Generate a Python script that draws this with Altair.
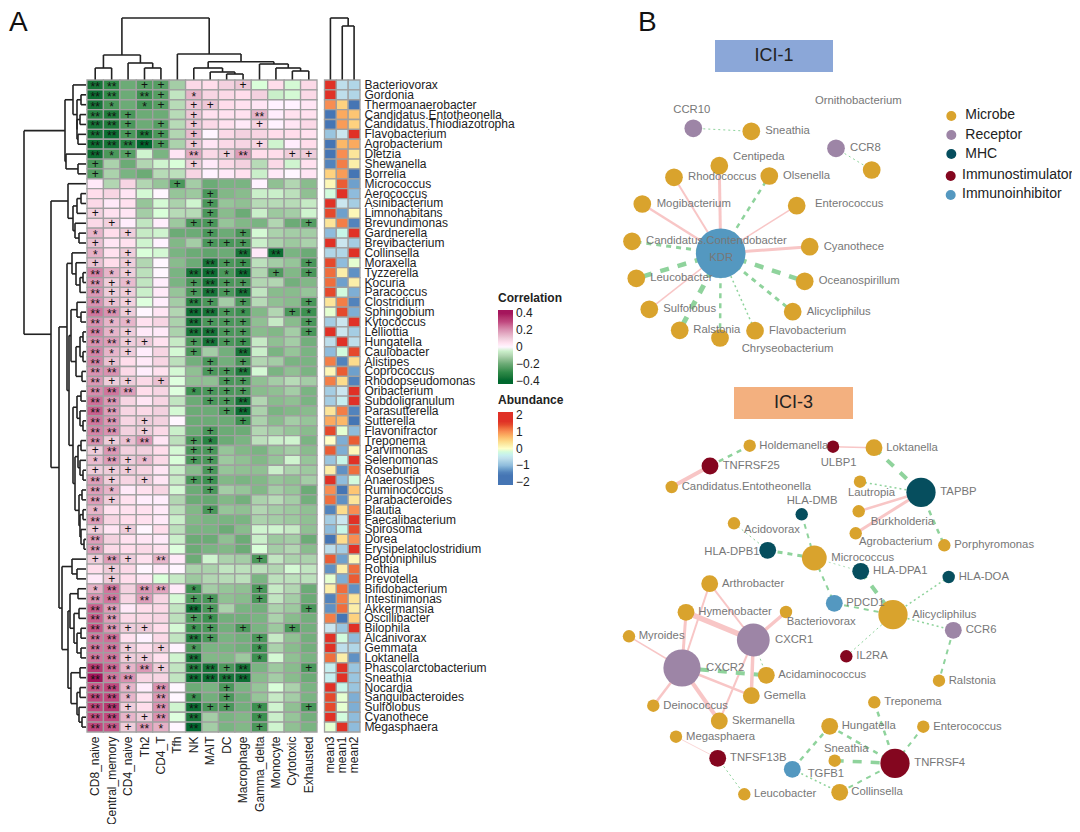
import altair as alt
import pandas as pd

FONT = "Liberation Sans"
taxa = ["Bacteriovorax","Gordonia","Thermoanaerobacter","Candidatus.Entotheonella","Candidatus.Thiodiazotropha","Flavobacterium","Agrobacterium","Dietzia","Shewanella","Borrelia","Micrococcus","Aerococcus","Asinibacterium","Limnohabitans","Brevundimonas","Gardnerella","Brevibacterium","Collinsella","Moraxella","Tyzzerella","Kocuria","Paracoccus","Clostridium","Sphingobium","Kytococcus","Lelliottia","Hungatella","Caulobacter","Alistipes","Coprococcus","Rhodopseudomonas","Oribacterium","Subdoligranulum","Parasutterella","Sutterella","Flavonifractor","Treponema","Parvimonas","Selenomonas","Roseburia","Anaerostipes","Ruminococcus","Parabacteroides","Blautia","Faecalibacterium","Spirosoma","Dorea","Erysipelatoclostridium","Peptoniphilus","Rothia","Prevotella","Bifidobacterium","Intestinimonas","Akkermansia","Oscillibacter","Bilophila","Alcanivorax","Gemmata","Loktanella","Phascolarctobacterium","Sneathia","Nocardia","Sanguibacteroides","Sulfolobus","Cyanothece","Megasphaera"]
cells = ["CD8_naive","Central_memory","CD4_naive","Th2","CD4_T","Tfh","NK","MAIT","DC","Macrophage","Gamma_delta","Monocyte","Cytotoxic","Exhausted"]
means = ["mean3","mean1","mean2"]

corr = [
[-36,-30,-20,-24,-24,-12,7,6,9,11,-2,6,-3,7],[-38,-30,-20,-28,-24,-7,14,8,7,6,9,-5,-3,7],[-36,-26,-20,-27,-24,-9,11,11,6,5,4,1,1,4],
[-32,-34,-26,-20,-20,-9,11,5,5,5,14,2,5,5],[-36,-34,-26,-20,-24,-9,11,7,5,3,8,1,4,7],[-36,-38,-26,-34,-26,-10,13,0,7,9,8,6,6,5],
[-38,-36,-32,-40,-26,-11,11,4,7,8,8,-4,2,6],[-38,-26,-24,-4,-18,4,16,7,10,18,6,6,10,10],[-26,-11,-20,-10,-4,-2,10,3,7,9,-9,7,-4,5],
[-24,-11,-18,-20,-9,-8,8,1,3,5,-5,3,0,4],[3,-10,8,-10,-14,-26,-12,-20,-18,-18,1,-15,-10,-16],[6,8,4,-3,0,-14,-13,-26,-17,-16,-5,-5,-8,-15],
[7,3,5,-14,-3,-11,-4,-26,-14,-15,-9,-9,-9,-6],[9,5,4,-12,-2,-9,-9,-26,-16,-20,-5,-13,-12,-4],[7,9,2,-7,2,-13,-26,-26,-14,-17,-18,-10,-20,-24],
[14,6,10,-6,-4,-20,-20,-26,-20,-26,-3,-11,-12,-12],[12,4,5,-4,1,-17,-12,-26,-26,-26,-5,-11,-13,-11],[15,5,10,-2,-3,-18,-20,-22,-20,-36,3,-38,-18,-20],
[12,6,10,-10,0,-16,-20,-36,-26,-28,-8,-12,-14,-26],[22,14,10,-8,0,-18,-36,-38,-26,-38,-10,-25,-17,-26],[19,10,13,-7,2,-18,-26,-36,-26,-26,-10,-10,-19,-17],
[19,10,10,-5,3,-14,-26,-36,-26,-36,-7,-16,-16,-14],[20,12,9,-1,2,-12,-32,-26,-12,-26,-9,-15,-16,-26],[24,20,10,0,4,-10,-38,-36,-26,-28,-17,-10,-26,-28],
[20,14,14,5,8,-11,-36,-26,-26,-26,-15,-6,-16,-26],[22,14,10,3,3,-11,-36,-36,-26,-26,-16,-17,-12,-26],[20,18,10,10,5,-6,-26,-36,-26,-28,-6,-15,-12,-19],
[22,14,10,2,8,-3,-26,-12,-19,-36,-5,-18,-14,-18],[22,12,6,3,8,-8,-19,-26,-19,-26,-10,-12,-18,-18],[20,20,7,2,5,-3,-15,-26,-26,-34,-3,-18,-15,-18],
[19,10,10,7,12,-1,-15,-15,-26,-26,-15,-12,-9,-12],[21,24,18,6,8,-1,-28,-26,-26,-26,-16,-15,-12,-18],[25,19,8,4,8,-7,-20,-26,-26,-36,-10,-16,-15,-18],
[27,18,8,7,9,-3,-20,-20,-26,-38,-11,-18,-17,-16],[24,19,8,10,9,0,-20,-20,-20,-28,-11,-16,-12,-14],[22,20,9,10,7,-5,-20,-26,-20,-20,-10,-12,-14,-16],
[20,10,12,19,4,-8,-26,-32,-20,-18,-8,-5,-4,-18],[10,19,9,9,6,-3,-26,-26,-14,-17,-18,-14,-12,-16],[13,18,10,13,7,-2,-26,-26,-13,-15,-17,-14,-4,-14],
[10,10,10,8,4,-5,-16,-26,-14,-15,-15,-5,-11,-13],[18,10,8,10,4,-6,-26,-28,-17,-18,-17,-14,-15,-12],[18,14,3,5,8,-3,-20,-26,-12,-14,-17,-12,-14,-20],
[18,10,5,2,2,-10,-20,-21,-17,-19,-11,-9,-12,-19],[14,5,5,5,3,-8,-17,-26,-14,-15,-10,-12,-13,-15],[18,8,6,5,3,-5,-17,-18,-18,-18,-11,-12,-13,-15],
[10,4,10,0,6,-8,-18,-18,-20,-16,-4,-4,-6,-15],[18,9,5,4,3,-5,-20,-20,-15,-20,-5,-13,-12,-20],[18,7,6,7,5,-1,-20,-18,-17,-20,-2,-12,-10,-16],
[10,18,10,5,14,3,-20,-4,-11,-12,-26,-7,-11,-11],[6,10,7,0,3,0,-11,-11,-7,-8,-8,-10,-3,-7],[3,10,6,4,-2,-6,-13,-10,-9,-8,-18,-8,-8,-8],
[15,24,9,19,17,3,-28,-12,-14,-15,-26,-6,-10,-20],[20,24,8,18,8,-3,-26,-26,-15,-16,-26,-7,-12,-20],[27,18,3,6,7,-7,-38,-26,-11,-18,-19,-11,-13,-26],
[27,18,7,7,8,-8,-26,-28,-19,-19,-18,-11,-16,-19],[28,19,10,10,6,-3,-28,-26,-19,-26,-18,-13,-26,-19],[24,25,5,1,7,-7,-34,-26,-18,-19,-26,-6,-15,-19],
[24,24,10,5,10,1,-26,-18,-18,-19,-28,-11,-16,-19],[24,24,10,10,5,-4,-36,-17,-17,-13,-28,-3,-15,-18],[33,26,14,19,10,-7,-34,-36,-26,-36,-18,-13,-16,-26],
[40,24,20,8,8,-7,-38,-38,-36,-38,-16,-12,-16,-20],[28,30,14,2,20,0,-20,-18,-26,-18,-14,-2,-11,-18],[30,30,14,5,19,0,-28,-19,-26,-19,-14,-6,-12,-18],
[30,34,10,6,20,-4,-38,-26,-26,-19,-28,-4,-15,-26],[29,30,14,10,20,-1,-36,-12,-18,-17,-28,-5,-14,-19],[30,28,10,18,15,0,-40,-12,-18,-17,-26,-4,-15,-18],
]
sig = ["DD.++....+....","DD.D+.s.......","Ds.s+.++......","DD+...+...D...","DD+.+.+...+...","DD+D+.+.......","DDDD+.+...+...","Ds+...D.+D..++","+.....+.......","+.............",".....+........",".......+......",".......+......","+......+......",".+....++.....+","s.+....+.+....","+......+++....","s.+......D.D..","+.+....D++...+","Ds+...DDsD.+.+","D+s...+D++....","D++...+D+D....","D++...D+.+...+","DD+...DD+s..+s","Dss...D+++...+","Ds+...DD++...+","DD++..+D++....","Ds+...+..D....","D+.....+.+....","DD.....++D....","D++.+...++....","DDD...s+++....","DD.....++D....","DD......+D....","DD.+.....+....","DD.+...+......","D+sD..+s......","+D....++......","sD+s..++......","+++....+......","D+.+..++......","Ds.....+......","D+............","s......+......","D.............","+.+...........","D.............","D.............","+D+.D.....+...",".+............",".+............","sD.DD.s...+...","DD.D..++..+...","DD....D+.....+","DD....+s......","DD++..s+.+..+.","DD....D+..+...","DD+.+.s...s...","DD++..D...s...","DDsD+.DD+D...+","DDD...DDDD....","DDs.D...+.....","DDs.D.s.+.....","DD+.D.D++.s..+","DDs+D.D...s...","DD+Ds.D...+..."]
abund = [
[1.6,-.6,-.7],[1.6,-.6,-.7],[1.0,.5,-1.5],[-1.5,.8,.6],[-1.5,.9,.5],[-.9,-.5,1.5],[-1.5,.7,.8],[-1.5,1.0,.3],[-1.4,1.1,.2],[.5,.9,-1.5],
[.1,1.3,-1.2],[-.2,1.5,-1.0],[1.6,-.5,-.8],[1.4,-1.2,.1],[.3,1.1,-1.4],[-1.0,-.3,1.5],[1.6,-.5,-.8],[-.7,-.7,1.5],[1.4,-1.0,-.1],[1.2,.2,-1.3],
[1.2,-1.2,.2],[1.4,-.2,-1.1],[.3,1.1,-1.4],[-.1,1.4,-1.1],[-.8,-.5,1.5],[1.5,-.5,-.8],[-.6,1.5,-.6],[-1.0,-.2,1.4],[1.1,-1.4,.4],[.1,1.3,-1.2],
[1.1,.4,-1.4],[-.8,-.5,1.5],[-.8,-.4,1.5],[.3,1.1,-1.4],[.8,.7,-1.5],[1.4,-.1,-1.0],[0,-1.1,1.3],[1.3,-1.1,.1],[-.9,-.3,1.5],[.2,-1.3,1.2],
[1.5,-1.0,-.2],[1.0,-1.5,.6],[1.2,-1.3,.3],[-1.4,.4,1.0],[-.8,-.5,1.5],[-1.0,-.3,1.4],[-1.5,.4,1.0],[-.6,-.8,1.5],[1.3,-1.2,.1],[-1.3,.2,1.2],
[-.1,-1.1,1.3],[.2,1.2,-1.3],[-1.4,1.1,.3],[-1.3,1.2,.2],[1.1,-1.5,.5],[-.5,-.9,1.5],[1.5,-.2,-1.0],[1.6,-.6,-.7],[1.2,.2,-1.3],[-.4,1.6,-.9],
[-.4,1.6,-.9],[1.6,-.3,-.9],[1.4,-.1,-1.1],[1.4,-.1,-1.1],[1.5,-.2,-1.0],[-.1,1.5,-1.0],
]

# dendrogram merge trees: (merge height, child, child); leaves are 1-based positions
col_tree = (18,(55,(68,1,2),(63,3,(68,4,5))),(54,6,(61.7,(68,7,(72,8,(74,9,10))),(64,11,(68,12,(71,13,14))))))
mean_tree = (18,1,(26,2,3))
A_ = (72,18,(76,19,(80,(83,20,21),22)))
B_ = (77,23,(81,24,25))
C_ = (76,(80,(83,26,27),(83,28,29)),(82,30,31))
E_ = (73,(77,(81,32,33),(80,34,(83,35,36))),(75,(78,(81,37,38),(80,39,(83,40,41))),(79,(82,42,43),(80,(83,44,45),(81,46,(84,47,48))))))
F_ = (72,49,(77,50,51))
G_ = (70,(78,52,53),(74,(79,54,55),(77,(81,56,57),(81,58,59))))
H_ = (71,(80,60,61),(77,(80,62,63),(79,64,(82,65,66))))
row_tree = (24,(65,(73,1,(77,(81,2,3),(77,(80,4,5),(78,6,7)))),(66,8,(78,9,10))),
            (51,(68,11,(73,(77,(81,12,13),14),(75,15,(79,16,17)))),
                (59,(67,A_,(69,(71,B_,C_),E_)),(62,F_,(68,G_,H_)))))

# network: id, label, group, node x, node y, node diameter, label x, label y
nodes = [
("a1","CCR10","Receptor",693.3,128.3,20,673.3,110.3),("a2","Sneathia","Microbe",751.3,131.3,20,765.3,131),("a3","CCR8","Receptor",836,148.3,20,850,148),("a4","","Microbe",871.7,170,20,0,0),
("a5","Centipeda","Microbe",719.3,165.7,20,733,157.3),("a6","Rhodococcus","Microbe",674,177.3,20,688,177),("a7","Olsenella","Microbe",769.3,176,20,783,176),("a8","Mogibacterium","Microbe",642.3,204,20,656.7,204),
("a9","Enterococcus","Microbe",796.7,205.7,20,815,204.3),("a10","Candidatus.Contendobacter","Microbe",632,241.3,20,646,241.3),("a11","KDR","Immunoinhibitor",720.7,253.3,56,709.3,258),("a12","Cyanothece","Microbe",809.7,246.7,20,823.7,246.7),
("a13","Leucobacter","Microbe",636.3,278.3,20,650.3,278.3),("a14","Oceanospirillum","Microbe",804.7,281.3,20,818.7,281.3),("a15","Sulfolobus","Microbe",649.3,309.3,20,663.3,309.3),("a16","Alicycliphilus","Microbe",792.7,311.7,20,806.7,311.7),
("a17","Ralstonia","Microbe",679.7,330.3,20,693.3,330.3),("a18","Flavobacterium","Microbe",755,330.7,20,769,330.7),("a19","Chryseobacterium","Microbe",720,338,20,741.7,349.3),
("b1","Holdemanella","Microbe",749.7,445.7,14,759.3,445.7),("b2","ULBP1","Immunostimulator",833,446.7,14,820.7,462.7),("b3","Loktanella","Microbe",874,447.7,19,886.3,447.7),("b4","TNFRSF25","Immunostimulator",710,466,19,722.7,466),
("b5","Candidatus.Entotheonella","Microbe",671.7,487,14,681.7,487),("b6","TAPBP","MHC",921,492.3,33,940.3,492.3),("b7","Lautropia","Microbe",860,481.7,14,848,492.7),("b8","Burkholderia","Microbe",858.7,511.3,14,870.7,522.3),
("b9","Agrobacterium","Microbe",855.7,533.3,14,859,542.3),("b10","HLA-DMB","MHC",801.7,514.3,14,786.7,501.3),("b11","Acidovorax","Microbe",734,523.3,14,744,529.7),("b12","HLA-DPB1","MHC",767.7,550.3,19,704.3,552.3),
("b13","Porphyromonas","Microbe",944.3,545.3,14,954.3,545.3),("b14","Micrococcus","Microbe",814.3,558,28,831.3,558),("b15","HLA-DPA1","MHC",860.7,571.3,19,873,571.3),("b16","HLA-DOA","MHC",948.7,577,14,958.7,577),
("b17","Arthrobacter","Microbe",709.7,583.7,19,722,583.7),("b18","PDCD1","Immunoinhibitor",834.3,603.3,19,846.3,603.3),("b19","Alicycliphilus","Microbe",893,614.7,33,912.3,614.7),("b20","Hymenobacter","Microbe",686,612.3,19,698.3,612.3),
("b21","Bacteriovorax","Microbe",786,612,14,786.7,622.3),("b22","CXCR1","Receptor",753.3,640,37,775,640),("b23","Myroides","Microbe",629,636.3,14,638.7,636.3),("b24","CCR6","Receptor",953.3,630.3,19,965.7,630.3),
("b25","CXCR2","Receptor",682,668,42,706,667.7),("b26","Acidaminococcus","Microbe",766.3,675.3,19,778.3,675.3),("b27","IL2RA","Immunostimulator",846.3,656.3,14,856.3,656.3),("b28","Ralstonia","Microbe",939,680.7,14,948.7,680.7),
("b29","Gemella","Microbe",751.3,695.7,19,763.7,695.7),("b30","Deinococcus","Microbe",653.3,705.7,14,663.3,705.7),("b31","Skermanella","Microbe",719.3,721,19,732,721),("b32","Treponema","Microbe",874.3,702.3,14,884.3,702.3),
("b33","Hungatella","Microbe",829.7,726.3,19,841.7,726.3),("b34","Enterococcus","Microbe",923.3,726.7,14,933.3,726.7),("b35","Megasphaera","Microbe",676,736.7,14,686,736.7),("b36","Sneathia","Microbe",834.7,760.7,14,824,748.7),
("b37","TNFRSF4","Immunostimulator",895,763.3,33,914.3,763.3),("b38","TNFSF13B","Immunostimulator",717.7,758.3,19,730,758.3),("b39","TGFB1","Immunoinhibitor",792.3,769.3,19,807.7,773.7),("b40","Leucobacter","Microbe",744.3,794.3,14,754,794.3),
("b41","Collinsella","Microbe",839.7,792.3,19,851.3,792.3),
]
# source, target, sign, weight
edges = [
("a1","a2","neg",1),("a3","a4","neg",1),("a11","a5","pos",3),("a11","a6","pos",2),("a11","a7","neg",2.5),("a11","a8","pos",2.5),("a11","a9","pos",1.5),("a11","a10","neg",3),("a11","a12","pos",3),("a11","a13","neg",4.5),("a11","a14","neg",4.5),("a11","a15","pos",1.5),("a11","a16","neg",3),("a11","a17","neg",5),("a11","a18","neg",1.5),("a11","a19","neg",2.5),
("b4","b1","neg",2.5),("b4","b5","pos",4),("b2","b3","pos",1.5),("b3","b6","neg",4),("b7","b6","neg",1.5),("b8","b6","pos",2.5),("b9","b6","pos",3),("b6","b13","neg",2.5),("b10","b14","neg",2),("b11","b12","neg",1),("b12","b14","neg",3),("b14","b15","neg",0.7),("b14","b18","neg",2),("b15","b19","neg",4),("b18","b19","neg",2),("b16","b19","neg",1.5),("b19","b24","neg",1.5),("b19","b27","neg",1),("b24","b28","neg",2),
("b17","b25","pos",2),("b17","b22","pos",2),("b20","b22","pos",5.5),("b20","b25","pos",3),("b21","b22","pos",3.5),("b23","b25","pos",1.5),("b25","b26","neg",4),("b22","b26","neg",1),("b22","b29","pos",3.5),("b22","b31","pos",2),("b25","b29","pos",2.5),("b25","b30","pos",2.5),("b25","b31","pos",4),("b35","b38","pos",0.7),("b38","b40","neg",1),
("b32","b37","neg",2.5),("b33","b37","neg",2.5),("b34","b37","neg",2),("b36","b37","neg",3.5),("b41","b37","neg",2),("b33","b39","neg",2.5),("b39","b41","neg",1.5),
]
group_names = ["Microbe","Receptor","MHC","Immunostimulator","Immunoinhibitor"]
group_colors = ["#d9a32d","#9d85a6","#064e5e","#84061f","#5498c0"]
legend_x = [951.3,951.3,951.3,950.7,950.7]
legend_y = [116,135,154,176,195]
legend_tx = [965.3,965.3,965.3,962,962]
legend_ty = [115,135,154,174.7,194]
boxes = pd.DataFrame({"x":[715,734],"x2":[833,853],"y":[40,387],"y2":[72,419],"c":["#8ba7d8","#f3b07f"]})
box_text = pd.DataFrame({"x":[774,793.5],"y":[56,403],"t":["ICI-1","ICI-3"]})
letters = pd.DataFrame({"x":[9,638],"y":[22.5,22.5],"t":["A","B"]})

# ---- tables
LEFT, RIGHT, TOP, BOTTOM = 87, 317, 80, 732
CW = (RIGHT-LEFT)/14; RH = (BOTTOM-TOP)/66
MLEFT, MRIGHT = 324.5, 360
MW = (MRIGHT-MLEFT)/3
def segs(tree, place, out, horizontal):
    if isinstance(tree, int):
        return place(tree)
    h, a, b = tree
    pa, pb = segs(a, place, out, horizontal), segs(b, place, out, horizontal)
    if horizontal:   # tree grows leftwards, h is x
        out.append(dict(x=h,x2=h,y=pa[1],y2=pb[1]))
        out.append(dict(x=h,x2=pa[0],y=pa[1],y2=pa[1]))
        out.append(dict(x=h,x2=pb[0],y=pb[1],y2=pb[1]))
        return (h,(pa[1]+pb[1])/2)
    out.append(dict(x=pa[0],x2=pb[0],y=h,y2=h))
    out.append(dict(x=pa[0],x2=pa[0],y=h,y2=pa[1]))
    out.append(dict(x=pb[0],x2=pb[0],y=h,y2=pb[1]))
    return ((pa[0]+pb[0])/2,h)
seg=[]
segs(col_tree, lambda i:(LEFT+(i-.5)*CW,TOP-0.5), seg, False)
segs(mean_tree, lambda i:(MLEFT+(i-.5)*MW,TOP-0.5), seg, False)
segs(row_tree, lambda i:(LEFT-1,TOP+(i-.5)*RH), seg, True)
seg=pd.DataFrame(seg)

long_c = pd.DataFrame([dict(taxon=t,cell=c,r=corr[i][j]/100,s={"D":"**","s":"*","+":"+",".":""}[sig[i][j]])
    for i,t in enumerate(taxa) for j,c in enumerate(cells)])
long_m = pd.DataFrame([dict(taxon=t,m=c,v=abund[i][j]) for i,t in enumerate(taxa) for j,c in enumerate(means)])

OFF=8; W,H=1064,816
px = alt.Scale(domain=[OFF,OFF+W],range=[0,W])
py = alt.Scale(domain=[OFF,OFF+H],range=[0,H])
X=lambda f:alt.X(f"{f}:Q",scale=px,axis=None)
Y=lambda f:alt.Y(f"{f}:Q",scale=py,axis=None)

xc = alt.Scale(type="band",domain=cells,range=[LEFT-OFF,RIGHT-OFF],paddingInner=0,paddingOuter=0)
xm = alt.Scale(type="band",domain=means,range=[MLEFT-OFF,MRIGHT-OFF],paddingInner=0,paddingOuter=0)
yt = alt.Scale(type="band",domain=taxa,range=[TOP-OFF,BOTTOM-OFF],paddingInner=0,paddingOuter=0)

bottom_axis=dict(orient="bottom",offset=BOTTOM-OFF-H,title=None,ticks=False,domain=False,labelAngle=270,labelAlign="right",labelBaseline="middle",
                 labelFont=FONT,labelFontSize=12,labelColor="#222222",labelPadding=4,labelOverlap=False,labelLimit=200,grid=False)
heat = alt.Chart(long_c).mark_rect(stroke="#a0a0a0",strokeWidth=1.3).encode(
    x=alt.X("cell:N",scale=xc,axis=alt.Axis(**bottom_axis),sort=cells),
    y=alt.Y("taxon:N",scale=yt,axis=None,sort=taxa),
    color=alt.Color("r:Q",scale=alt.Scale(domain=[-.44,-.4,-.3,-.2,-.1,0,.1,.2,.3,.4,.44],
        range=["#00682e","#00682e","#2f8a48","#6cab76","#b2d6b2","#ffffff","#efcddb","#da92b2","#c0487f","#a5155c","#a5155c"]),
        legend=alt.Legend(title="Correlation",orient="none",legendX=490,legendY=285,values=[-.4,-.2,0,.2,.4],format=".1~f",
            gradientLength=74,gradientThickness=15,titleFont=FONT,titleFontSize=12,titleFontWeight="bold",titleColor="#222222",
            labelFont=FONT,labelFontSize=12,labelColor="#222222",gradientStrokeWidth=0,titlePadding=5,labelOffset=3,labelOverlap=False)))
sig_xy = dict(x=alt.X("cell:N",scale=xc,axis=None,sort=cells),y=alt.Y("taxon:N",scale=yt,axis=None,sort=taxa),text="s:N")
stars = alt.Chart(long_c).transform_filter("datum.s!='+' && datum.s!=''").mark_text(font=FONT,fontSize=12,color="#111111",dy=2).encode(**sig_xy)
plus = alt.Chart(long_c).transform_filter("datum.s=='+'").mark_text(font=FONT,fontSize=12,color="#111111").encode(**sig_xy)

heat2 = alt.Chart(long_m).mark_rect(stroke="#a0a0a0",strokeWidth=1.3).encode(
    x=alt.X("m:N",scale=xm,axis=alt.Axis(**bottom_axis),sort=means),
    y=alt.Y("taxon:N",scale=yt,sort=taxa,axis=alt.Axis(orient="right",offset=MRIGHT+4-OFF-W,title=None,ticks=False,domain=False,labelFont=FONT,labelFontSize=12,
        labelColor="#222222",labelPadding=0,labelOverlap=False,labelLimit=300,grid=False)),
    color=alt.Color("v:Q",scale=alt.Scale(domain=[-2.15,-1.5,-1,-.5,0,.5,1,1.5,2.15],
        range=["#4575b4","#4575b4","#8fbcdc","#cbe6ef","#ffffc8","#fed27f","#f88d52","#e03126","#e03126"]),
        legend=alt.Legend(title="Abundance",orient="none",legendX=490,legendY=387,values=[-2,-1,0,1,2],
            gradientLength=73,gradientThickness=15,titleFont=FONT,titleFontSize=12,titleFontWeight="bold",titleColor="#222222",
            labelFont=FONT,labelFontSize=12,labelColor="#222222",gradientStrokeWidth=0,titlePadding=5,labelOffset=3,labelOverlap=False)))

dend = alt.Chart(seg).mark_rule(color="#222222",strokeWidth=1.6).encode(x=X("x"),x2="x2:Q",y=Y("y"),y2="y2:Q")

nd = pd.DataFrame(nodes,columns=["id","label","group","x","y","d","lx","ly"])
nd["area"]=nd.d**2*3.14159/4
pos={n[0]:n for n in nodes}
ed = pd.DataFrame([dict(x=pos[a][3],y=pos[a][4],x2=pos[b][3],y2=pos[b][4],sign=s,w=w) for a,b,s,w in edges])
def edge_layer(df,color,dash=None):
    kw=dict(color=color)
    if dash: kw["strokeDash"]=dash
    return alt.Chart(df).mark_rule(**kw).encode(x=X("x"),x2="x2:Q",y=Y("y"),y2="y2:Q",strokeWidth=alt.StrokeWidth("w:Q",scale=None))
pos_e=ed[ed.sign=="pos"]; neg=ed[ed.sign=="neg"]
edge_layers=[edge_layer(pos_e,"#f8c6c6"),
    edge_layer(neg[neg.w<=1.5],"#8fd39c",[2,3]),
    edge_layer(neg[(neg.w>1.5)&(neg.w<=3)],"#8fd39c",[5,5]),
    edge_layer(neg[neg.w>3],"#8fd39c",[9,9])]
cscale=alt.Scale(domain=group_names,range=group_colors)
node_l=alt.Chart(nd).mark_circle(opacity=1).encode(x=X("x"),y=Y("y"),size=alt.Size("area:Q",scale=None),fill=alt.Fill("group:N",scale=cscale,legend=None))
lab=nd[nd.label!=""]
label_l=alt.Chart(lab).mark_text(align="left",font=FONT,fontSize=11.3,color="#777777").encode(x=X("lx"),y=Y("ly"),text="label:N")
orn=pd.DataFrame({"x":[815],"y":[101],"t":["Ornithobacterium"]})
orn_l=alt.Chart(orn).mark_text(align="left",font=FONT,fontSize=11.3,color="#777777").encode(x=X("x"),y=Y("y"),text="t:N")
leg=pd.DataFrame({"g":group_names,"x":legend_x,"y":legend_y,"tx":legend_tx,"ty":legend_ty})
leg_p=alt.Chart(leg).mark_circle(size=100,opacity=1).encode(x=X("x"),y=Y("y"),fill=alt.Fill("g:N",scale=cscale,legend=None))
leg_t=alt.Chart(leg).mark_text(align="left",font=FONT,fontSize=14,color="#222222").encode(x=X("tx"),y=Y("ty"),text="g:N")
box=alt.Chart(boxes).mark_rect().encode(x=X("x"),x2="x2:Q",y=Y("y"),y2="y2:Q",fill=alt.Fill("c:N",scale=None))
box_t=alt.Chart(box_text).mark_text(font=FONT,fontSize=18,color="#222222").encode(x=X("x"),y=Y("y"),text="t:N")
let_t=alt.Chart(letters).mark_text(align="left",font=FONT,fontSize=28,color="#111111").encode(x=X("x"),y=Y("y"),text="t:N")

chart = alt.layer(heat,stars,plus,heat2,dend,box,box_t,let_t,*edge_layers,node_l,label_l,orn_l,leg_p,leg_t).resolve_scale(
    x="independent",y="independent",color="independent",fill="independent"
).properties(width=W,height=H,padding=0,autosize=alt.AutoSizeParams(type="none"),background="white").configure_view(stroke=None)
chart.save("out.html",embed_options={"renderer":"svg","actions":False})
